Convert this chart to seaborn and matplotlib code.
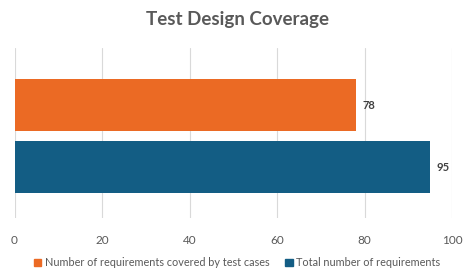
import pandas as pd
import matplotlib.pyplot as plt
import seaborn as sns
from matplotlib.patches import Patch

series = ["Number of requirements covered by test cases", "Total number of requirements"]
values = [78, 95]
colors = ["#EB6A24", "#135D84"]

df = pd.DataFrame({"series": series, "value": values})

sns.set_theme(style="white")
plt.rcParams["font.family"] = ["Lato", "DejaVu Sans"]

fig = plt.figure(figsize=(4.74, 2.78), dpi=100)
ax = fig.add_axes([0.0306, 0.216, 0.923, 0.611])

sns.barplot(data=df, y="series", x="value", hue="series", palette=colors,
            saturation=1, width=0.84, dodge=False, legend=False, ax=ax,
            linewidth=0, zorder=3)

ax.set_xlim(0, 100)
ax.set_ylim(1.82, -0.92)
ax.set_xticks(range(0, 101, 20))
ax.set_yticks([])
ax.set_xlabel("")
ax.set_ylabel("")
ax.grid(axis="x", color="#D9D9D9", linewidth=0.8, zorder=0)
for s in ax.spines.values():
    s.set_visible(False)
ax.tick_params(axis="x", length=0, labelsize=8.5, labelcolor="#595959", pad=12)

# data labels
for bar, v in zip(ax.patches, values):
    ax.text(bar.get_width() + 1.5, bar.get_y() + bar.get_height() / 2, str(v),
            va="center", ha="left", fontsize=8, fontweight="bold", color="#404040")

fig.text(0.5, 0.93, "Test Design Coverage", ha="center", va="center",
         fontsize=13.5, fontweight="bold", color="#595959")

handles = [Patch(color=c, label=s) for c, s in zip(colors, series)]
fig.legend(handles=handles, loc="center", bbox_to_anchor=(0.5, 0.055), ncol=2,
           frameon=False, fontsize=7.8, handlelength=0.7, handleheight=0.7,
           handletextpad=0.3, columnspacing=1.5, labelcolor="#595959")

fig.savefig("out.png", dpi=100)
